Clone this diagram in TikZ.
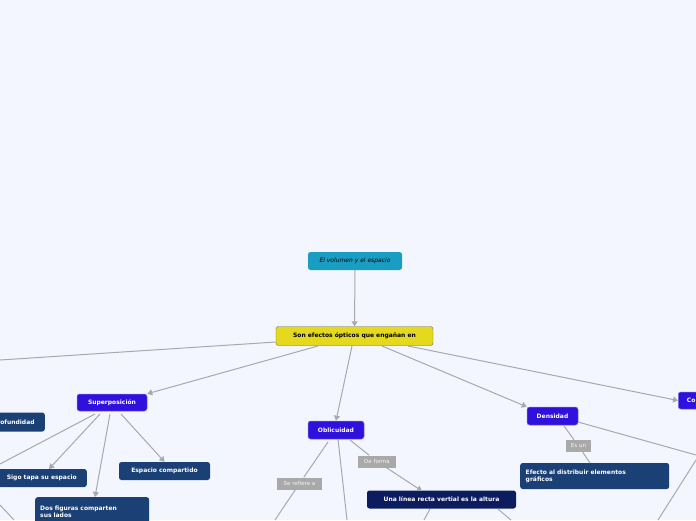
\documentclass[tikz,border=0pt]{standalone}
\usepackage{fontspec}
\setmainfont{DejaVu Sans}
\usetikzlibrary{arrows.meta}
\definecolor{bg}{HTML}{F3F6FE}
\definecolor{edge}{HTML}{A8A8AE}
\definecolor{teal}{HTML}{1A9DC2}
\definecolor{yel}{HTML}{E5D91E}
\definecolor{purp}{HTML}{3010DC}
\definecolor{dblue}{HTML}{1B4075}
\definecolor{navy}{HTML}{0C1C5E}
\definecolor{lbl}{HTML}{A9A9A9}
\tikzset{
 box/.style={rounded corners=2.5pt,inner sep=0pt,font=\fontsize{6}{7}\selectfont\bfseries,text=white},
 topic/.style={box,fill=purp,draw=purp!60!white,line width=0.5pt},
 sub/.style={box,fill=dblue},
 lab/.style={fill=lbl,inner sep=0pt,minimum height=12pt,font=\fontsize{5.5}{6}\selectfont,text=white!92!gray},
 con/.style={draw=edge,line width=1pt},
 arr/.style={con,-{Triangle[length=5pt,width=6pt]}},
}
\begin{document}
\begin{tikzpicture}[x=1pt,y=-1pt]
\fill[bg] (0,0) rectangle (696,520);
\useasboundingbox (0,0) rectangle (696,520);
\begin{scope}
\clip (0,0) rectangle (696,520);
\node[box,fill=teal,text=black,font=\fontsize{6}{7}\selectfont\itshape,minimum width=94pt,minimum height=18pt] (root) at (355,261) {El volumen y el espacio};
\node[box,fill=yel,draw=black!60,text=black,minimum width=157pt,minimum height=19pt] (main) at (354.5,336) {Son efectos ópticos que engañan en};
\node[topic,minimum width=70pt,minimum height=17pt] (sup) at (112,402.5) {Superposición};
\node[sub,minimum width=62pt,minimum height=19pt,anchor=east] (prof) at (45,422) {Profundidad};
\node[sub,minimum width=90pt,minimum height=18pt,anchor=east] (sigo) at (87,478) {\hspace{0pt}Sigo tapa su espacio\hspace{4pt}};
\node[sub,minimum width=91pt,minimum height=18pt] (esp) at (164.5,471) {Espacio compartido};
\node[sub,minimum width=114pt,minimum height=30pt,anchor=north west,align=left,text width=104pt] (dos) at (35,497) {Dos figuras comparten\\sus lados};
\node[topic,minimum width=56pt,minimum height=18pt] (obl) at (336,430) {Oblicuidad};
\node[lab,minimum width=45pt] (sra) at (299.5,483.5) {Se refiere a};
\node[lab,minimum width=38pt] (df) at (377,461.5) {De forma};
\node[sub,fill=navy,minimum width=149pt,minimum height=18pt] (una) at (441.5,499.5) {Una línea recta vertial es la altura};
\node[topic,minimum width=51pt,minimum height=18pt] (den) at (552.5,416) {Densidad};
\node[lab,minimum width=25pt] (esun) at (578.5,446) {Es un};
\node[sub,minimum width=149pt,minimum height=26pt,anchor=west,align=left,text width=138pt] (efe) at (520,476) {Efecto al distribuir elementos\\gráficos};
\node[topic,minimum width=40pt,minimum height=17pt,anchor=west] (co) at (678,400.5) {\hspace{-14pt}Co};
\coordinate (L1) at (0,360);
\coordinate (L2) at (0,464);
\coordinate (L3a) at (0,505); \coordinate (L3b) at (14,520);
\coordinate (O1) at (347,520);
\coordinate (O2) at (275,520);
\coordinate (U1) at (424,520); \coordinate (U2) at (511,520);
\coordinate (R1) at (696,455);
\coordinate (R2a) at (696,460); \coordinate (R2b) at (658,520);
\draw[arr] (root) -- (main);
\draw[con] (main.west|-0,342) -- (L1);
\draw[arr] (318,346) -- (sup.north east);
\draw[arr] (352,346) -- (obl.north);
\draw[arr] (382,346) -- (den.north west);
\draw[arr] (408,346) -- (co.west);
\draw[con] (95,414) -- (L2);
\draw[arr] (100,414) -- (49,469);
\draw[arr] (110,414) -- (95,497);
\draw[arr] (121,414) -- (esp.north);
\draw[con] (L3a) -- (L3b);
\draw[con] (328,442) -- (sra);
\draw[con] (sra) -- (O2);
\draw[con] (338,439) -- (O1);
\draw[con] (350,440) -- (df);
\draw[arr] (df) -- (422,491);
\draw[con] (430,509) -- (U1);
\draw[con] (498,509) -- (U2);
\draw[con] (564,426) -- (esun);
\draw[con] (esun) -- (590,463);
\draw[con] (578,422) -- (R1);
\draw[con] (R2a) -- (R2b);
\end{scope}
\end{tikzpicture}
\end{document}
